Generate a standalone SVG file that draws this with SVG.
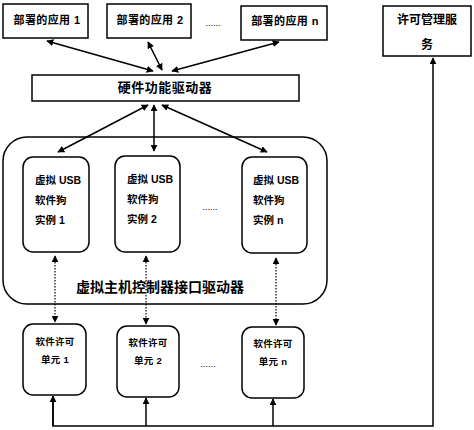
<svg xmlns="http://www.w3.org/2000/svg" width="474" height="430" viewBox="0 0 474 430">
<defs>
<style>
.b{fill:#fff;stroke:#000;stroke-width:1.5}
.t{font-family:"Liberation Sans","Noto Sans CJK SC",sans-serif;font-weight:bold;fill:#000}
.s{font-size:10.5px}
.u{font-size:9.5px;letter-spacing:0.3px}
.l{stroke:#000;stroke-width:1.5;fill:none}
.d{stroke:#000;stroke-width:1.2;stroke-dasharray:1.5 1.5;fill:none}
.dots{font-family:"Liberation Sans",sans-serif;font-size:9px;fill:#000}
</style>
<marker id="a" viewBox="0 0 10 10" refX="9" refY="5" markerWidth="7" markerHeight="7" orient="auto-start-reverse" markerUnits="userSpaceOnUse"><path d="M0,0L10,5L0,10z" fill="#000"/></marker>
</defs>
<rect width="474" height="430" fill="#fff"/>
<g id="app1"><rect class="b" x="3" y="4" width="85" height="34"/><text class="t" x="47" y="21" font-size="11" letter-spacing="0.4" text-anchor="middle" dominant-baseline="middle">部署的应用 1</text></g>
<g id="app2"><rect class="b" x="107" y="4" width="84" height="34"/><text class="t" x="150" y="21" font-size="11" letter-spacing="0.4" text-anchor="middle" dominant-baseline="middle">部署的应用 2</text></g>
<text class="dots" x="213" y="26" text-anchor="middle">......</text>
<g id="appn"><rect class="b" x="241" y="6" width="86" height="34"/><text class="t" x="285" y="22" font-size="11" letter-spacing="0.4" text-anchor="middle" dominant-baseline="middle">部署的应用 n</text></g>
<g id="license"><rect class="b" x="383" y="6" width="88" height="50"/><text class="t" x="427" y="21" font-size="12" text-anchor="middle" dominant-baseline="middle">许可管理服</text><text class="t" x="427" y="46" font-size="12" text-anchor="middle" dominant-baseline="middle">务</text></g>
<g id="hwdriver"><rect class="b" x="32" y="75" width="267" height="26"/><text class="t" x="165" y="89" font-size="13" text-anchor="middle" dominant-baseline="middle" letter-spacing="0.5">硬件功能驱动器</text></g>
<g id="hcdriver"><rect class="b" x="3" y="137" width="324" height="167" rx="24"/><text class="t" x="160" y="288" font-size="14" text-anchor="middle" dominant-baseline="middle">虚拟主机控制器接口驱动器</text></g>
<g id="usb1"><rect class="b" x="23" y="157" width="66" height="95" rx="10"/><text class="t s" x="35" y="184">虚拟 USB</text><text class="t s" x="35" y="204">软件狗</text><text class="t s" x="35" y="224">实例 1</text></g>
<g id="usb2"><rect class="b" x="115" y="156" width="65" height="96" rx="10"/><text class="t s" x="127" y="183">虚拟 USB</text><text class="t s" x="127" y="203">软件狗</text><text class="t s" x="127" y="223">实例 2</text></g>
<text class="dots" x="210" y="210" text-anchor="middle">......</text>
<g id="usbn"><rect class="b" x="242" y="157" width="65" height="96" rx="10"/><text class="t s" x="253" y="184">虚拟 USB</text><text class="t s" x="253" y="204">软件狗</text><text class="t s" x="253" y="224">实例 n</text></g>
<g id="unit1"><rect class="b" x="23" y="324" width="63" height="71" rx="10"/><text class="t u" x="55" y="342" text-anchor="middle" dominant-baseline="middle">软件许可</text><text class="t u" x="55" y="360" text-anchor="middle" dominant-baseline="middle">单元 1</text></g>
<g id="unit2"><rect class="b" x="117" y="326" width="62" height="71" rx="10"/><text class="t u" x="148" y="343" text-anchor="middle" dominant-baseline="middle">软件许可</text><text class="t u" x="148" y="361" text-anchor="middle" dominant-baseline="middle">单元 2</text></g>
<text class="dots" x="208" y="367" text-anchor="middle">......</text>
<g id="unitn"><rect class="b" x="242" y="327" width="62" height="71" rx="10"/><text class="t u" x="273" y="344" text-anchor="middle" dominant-baseline="middle">软件许可</text><text class="t u" x="273" y="362" text-anchor="middle" dominant-baseline="middle">单元 n</text></g>
<g id="connectors">
<line class="l" x1="47" y1="41" x2="153" y2="71" marker-start="url(#a)" marker-end="url(#a)"/>
<line class="l" x1="148" y1="42" x2="162" y2="70" marker-start="url(#a)" marker-end="url(#a)"/>
<line class="l" x1="279" y1="42" x2="172" y2="71" marker-start="url(#a)" marker-end="url(#a)"/>
<line class="l" x1="148" y1="105" x2="58" y2="152" marker-start="url(#a)" marker-end="url(#a)"/>
<line class="l" x1="154" y1="105" x2="154" y2="151" marker-start="url(#a)" marker-end="url(#a)"/>
<line class="l" x1="162" y1="105" x2="267" y2="152" marker-start="url(#a)" marker-end="url(#a)"/>
<line class="d" x1="55" y1="256" x2="55" y2="322" marker-start="url(#a)" marker-end="url(#a)"/>
<line class="d" x1="146" y1="256" x2="146" y2="324" marker-start="url(#a)" marker-end="url(#a)"/>
<line class="d" x1="276" y1="258" x2="276" y2="325" marker-start="url(#a)" marker-end="url(#a)"/>
<polyline class="l" points="53,396 53,426 433,426 433,58" marker-end="url(#a)"/>
<line class="l" x1="53" y1="426" x2="53" y2="396" marker-end="url(#a)"/>
<line class="l" x1="146" y1="426" x2="146" y2="398" marker-end="url(#a)"/>
<line class="l" x1="273" y1="426" x2="273" y2="399" marker-end="url(#a)"/>
</g>
</svg>
